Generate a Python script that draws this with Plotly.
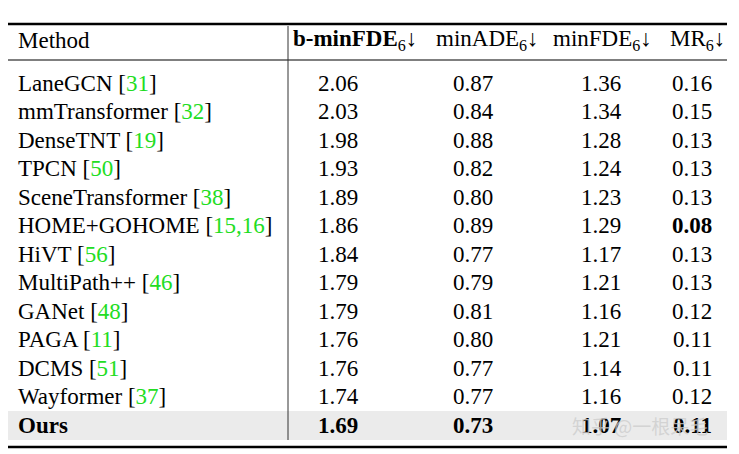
import plotly.graph_objects as go

methods = ["LaneGCN", "mmTransformer", "DenseTNT", "TPCN", "SceneTransformer", "HOME+GOHOME",
           "HiVT", "MultiPath++", "GANet", "PAGA", "DCMS", "Wayformer", "Ours"]
refs = ["31", "32", "19", "50", "38", "15,16", "56", "46", "48", "11", "51", "37", ""]
b_minfde = ["2.06", "2.03", "1.98", "1.93", "1.89", "1.86", "1.84", "1.79", "1.79", "1.76", "1.76", "1.74", "1.69"]
minade = ["0.87", "0.84", "0.88", "0.82", "0.80", "0.89", "0.77", "0.79", "0.81", "0.80", "0.77", "0.77", "0.73"]
minfde = ["1.36", "1.34", "1.28", "1.24", "1.23", "1.29", "1.17", "1.21", "1.16", "1.21", "1.14", "1.16", "1.07"]
mr = ["0.16", "0.15", "0.13", "0.13", "0.13", "0.08", "0.13", "0.13", "0.12", "0.11", "0.11", "0.12", "0.11"]
headers = ["Method", "<b>b-minFDE</b><sub>6</sub>↓", "minADE<sub>6</sub>↓", "minFDE<sub>6</sub>↓", "MR<sub>6</sub>↓"]

W, H = 739, 454
OFF = 8  # page body margin
FONT = dict(family="Liberation Serif, Times New Roman, serif", size=23, color="black")
fig = go.Figure()
fig.update_layout(width=W, height=H, margin=dict(l=0, r=0, t=0, b=0),
                  plot_bgcolor="white", paper_bgcolor="white", showlegend=False,
                  xaxis=dict(range=[OFF, W + OFF], visible=False, fixedrange=True),
                  yaxis=dict(range=[H + OFF, OFF], visible=False, fixedrange=True))

fig.add_shape(type="rect", x0=8, x1=727, y0=411, y1=440, fillcolor="#ebebeb", line_width=0, layer="below")
for y, w in [(24, 2.5), (60, 1.2), (447, 2.5)]:
    fig.add_shape(type="line", x0=8, x1=727, y0=y, y1=y, line=dict(color="black", width=w))
fig.add_shape(type="line", x0=288, x1=288, y0=26, y1=440, line=dict(color="#333", width=1))

fig.add_annotation(x=16, y=40, text=headers[0], showarrow=False, xanchor="left", font=FONT)
fig.add_annotation(x=291, y=40, text=headers[1], showarrow=False, xanchor="left", font=FONT)
fig.add_annotation(x=487, y=40, text=headers[2], showarrow=False, xanchor="center", font=FONT)
fig.add_annotation(x=602, y=40, text=headers[3], showarrow=False, xanchor="center", font=FONT)
fig.add_annotation(x=697, y=40, text=headers[4], showarrow=False, xanchor="center", font=FONT)

col_centers = [338, 473, 601, 692]
for i, m in enumerate(methods):
    y = 83 + i * 28.5
    if refs[i]:
        txt = f"{m} [<span style='color:#22dd22'>{refs[i]}</span>]"
    else:
        txt = f"<b>{m}</b>"
    fig.add_annotation(x=16, y=y, text=txt, showarrow=False, xanchor="left", font=FONT)
    for j, vals in enumerate([b_minfde, minade, minfde, mr]):
        v = vals[i]
        if m == "Ours" or (j == 3 and v == "0.08"):
            v = f"<b>{v}</b>"
        fig.add_annotation(x=col_centers[j], y=y, text=v, showarrow=False, xanchor="center", font=FONT)

fig.add_annotation(x=640, y=425, text="知乎 @一根呆毛", showarrow=False, xanchor="center",
                   font=dict(family="Noto Sans CJK SC", size=19, color="rgba(205,205,205,0.8)"))

fig.write_html("out.html")
